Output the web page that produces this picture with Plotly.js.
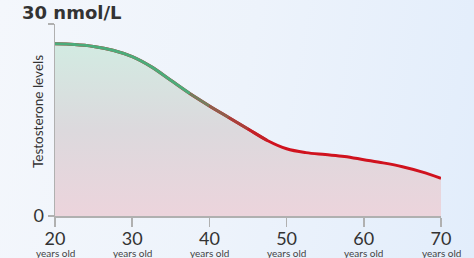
<!DOCTYPE html>
<html><head><meta charset="utf-8">
<script src="https://cdn.plot.ly/plotly-3.0.1.min.js"></script>
<style>
html,body{margin:0;padding:0;width:474px;height:258px;overflow:hidden;
background:linear-gradient(100deg,#f4f7fc 0%,#edf3fb 50%,#e2edfb 100%);}
#chart{width:474px;height:258px;}
</style></head><body><div id="chart"></div>
<script>
const ages = [20,22.5,25,27.5,30,32.5,35,37.5,40,42.5,45,47.5,50,52.5,55,57.5,60,62.5,65,67.5,70];
const levels = [26.9,26.8,26.5,25.9,24.9,23.3,21.2,19.1,17.2,15.4,13.6,11.8,10.5,9.9,9.6,9.3,8.8,8.3,7.7,6.9,5.9];
const tickAges = [20,30,40,50,60,70];
const tickLabels = ['20','30','40','50','60','70'];
const yTicks = [0,30];
const unitLabel = '30 nmol/L';
const yTitle = 'Testosterone levels';
const subLabel = 'years old';

const green=[76,172,122], red=[208,18,30];
function mix(t){const c=green.map((g,i)=>Math.round(g+(red[i]-g)*t));return `rgb(${c[0]},${c[1]},${c[2]})`;}

const traces=[];
traces.push({x:ages,y:levels,type:'scatter',mode:'lines',line:{shape:'spline',width:0,color:'rgba(0,0,0,0)'},
  fill:'tozeroy',fillgradient:{type:'vertical',start:0,stop:27,colorscale:[[0,'#ecd4dc'],[0.5,'#dcd9dd'],[1,'#d2ebe2']]},hoverinfo:'skip'});
traces.push({x:ages,y:levels,type:'scatter',mode:'lines',line:{shape:'spline',width:3,color:mix(1)}});
const gEnd=7;
traces.push({x:ages.slice(0,gEnd+1),y:levels.slice(0,gEnd+1),type:'scatter',mode:'lines',line:{shape:'spline',width:3,color:mix(0)}});
const tStart=35,tEnd=47.5;
for(let i=gEnd;i<ages.length-1;i++){
  if(ages[i]>=tEnd) break;
  const mid=(ages[i]+ages[i+1])/2;
  const t=Math.min(1,Math.max(0,(mid-tStart)/(tEnd-tStart)));
  traces.push({x:[ages[i],ages[i+1]],y:[levels[i],levels[i+1]],type:'scatter',mode:'lines',line:{width:3,color:mix(t)}});
}

const annotations=[{xref:'paper',yref:'paper',x:-0.0907,y:1,xanchor:'left',yanchor:'middle',yshift:12,
    text:'<b>'+unitLabel+'</b>',showarrow:false,font:{family:'DejaVu Sans, sans-serif',size:18,color:'#333'}},
  {xref:'paper',yref:'paper',x:-0.044,y:0.5,xanchor:'center',yanchor:'middle',yshift:8,textangle:-90,
    text:yTitle,showarrow:false,font:{size:13.5,color:'#333'}}];
tickAges.forEach(a=>annotations.push({xref:'x',yref:'paper',x:a,y:0,yanchor:'middle',yshift:-37,
  text:subLabel,showarrow:false,font:{size:10,color:'#444'}}));

const layout={
  width:474,height:258,margin:{l:55,r:33,t:24,b:42},
  paper_bgcolor:'rgba(0,0,0,0)',plot_bgcolor:'rgba(0,0,0,0)',showlegend:false,
  font:{family:'Lato, sans-serif',color:'#333'},
  xaxis:{range:[20,70],tickvals:tickAges,ticktext:tickLabels,ticklabelstandoff:-3,
    showgrid:false,zeroline:false,showline:true,linecolor:'#b0b0b0',linewidth:1.5,
    ticks:'outside',ticklen:9,tickcolor:'#b0b0b0',tickwidth:1.5,tickfont:{size:18,color:'#333'}},
  yaxis:{range:[0,30],tickvals:yTicks,ticktext:['0',''],showgrid:false,zeroline:false,showline:true,
    linecolor:'#b0b0b0',linewidth:1.5,ticks:'outside',ticklen:6,tickcolor:'#b0b0b0',tickwidth:1.5,
    tickfont:{size:18,color:'#333'}},
  annotations:annotations
};
Plotly.newPlot('chart',traces,layout,{displayModeBar:false,staticPlot:true});
</script></body></html>
